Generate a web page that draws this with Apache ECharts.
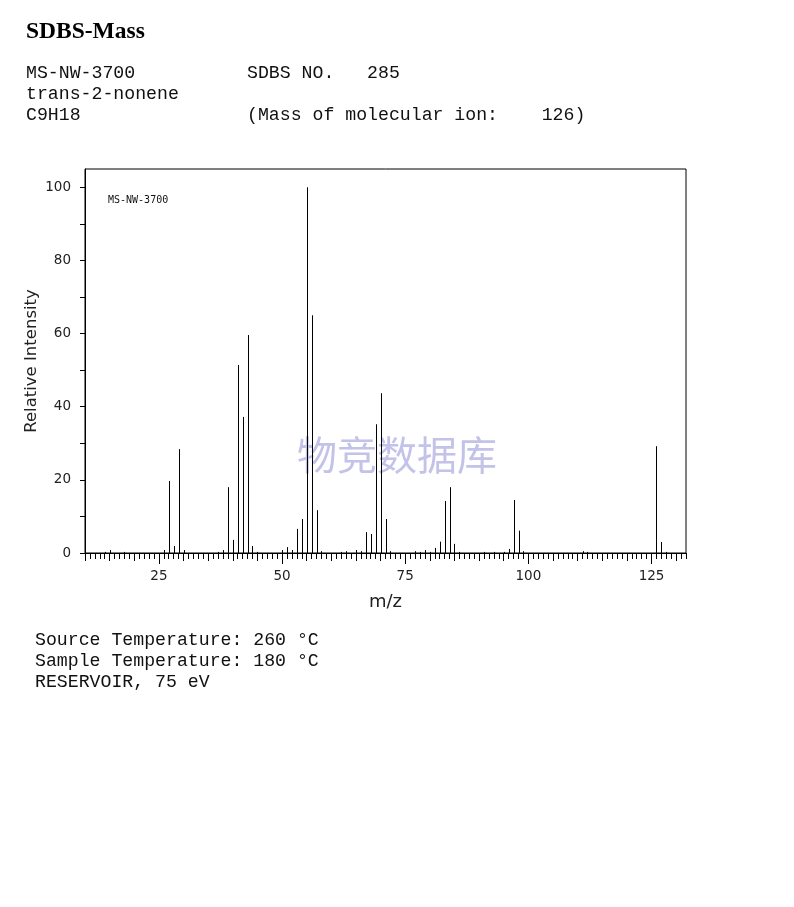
<!DOCTYPE html>
<html>
<head>
<meta charset="utf-8">
<script src="https://cdn.jsdelivr.net/npm/echarts@6/dist/echarts.min.js"></script>
<style>
html,body{margin:0;padding:0;background:#fff;}
#chart{width:794px;height:907px;}
</style>
</head>
<body>
<div id="chart"></div>
<script>
// m/z values and relative intensities
const mz = [14,15,18,26,27,28,29,30,37,38,39,40,41,42,43,44,45,50,51,52,53,54,55,56,57,58,62,63,65,66,67,68,69,70,71,72,77,78,79,80,81,82,83,84,85,86,91,93,95,96,97,98,99,111,112,126,127,128];
const intensity = [0.3,0.8,0.3,0.8,19.7,1.9,28.4,0.8,0.3,0.8,18.0,3.6,51.4,37.2,59.6,1.9,0.3,0.8,1.6,0.8,6.6,9.3,100,65.0,11.7,0.5,0.3,0.5,0.8,0.5,5.7,5.2,35.2,43.7,9.3,0.5,0.5,0.3,0.8,0.3,1.4,3.1,14.2,18.0,2.5,0.3,0.3,0.3,0.3,1.1,14.5,6.1,0.5,0.5,0.3,29.2,3.0,0.3];
const xTickLabels = [25,50,75,100,125];
const xMidTicks = [10,15,20,25,30,35,40,45,50,55,60,65,70,75,80,85,90,95,100,105,110,115,120,125,130];
const yTickLabels = [0,20,40,60,80,100];
const yTicks = [0,10,20,30,40,50,60,70,80,90,100];

const chart = echarts.init(document.getElementById('chart'), null, {renderer:'canvas'});
const mono = "'Liberation Mono', 'Courier New', monospace";

const data = mz.map((m,i)=>[m, intensity[i]]);

function txt(text, x, y, font, fill){
  return {type:'text', x:x, y:y, z:10, style:{text:text, font:font, fill:fill||'#111', textVerticalAlign:'middle', textAlign:'left'}};
}

const option = {
  backgroundColor:'#fff',
  animation:false,
  grid:{left:85, right:108, top:169, bottom:354, show:true, borderColor:'#000', borderWidth:1, backgroundColor:'transparent'},
  xAxis:[
    {type:'value', min:10, max:132, interval:1, gridIndex:0,
     axisLine:{show:true, onZero:false, lineStyle:{color:'#000', width:1}},
     axisTick:{show:true, inside:false, length:6, lineStyle:{color:'#000'}},
     axisLabel:{show:true, margin:16, color:'#222', fontFamily:'DejaVu Sans', fontSize:13.5,
       formatter:function(v){return xTickLabels.indexOf(v)>=0 ? String(v) : '';}},
     splitLine:{show:false},
     name:'m/z', nameLocation:'middle', nameGap:40, nameMoveOverlap:false,
     nameTextStyle:{color:'#222', fontFamily:'DejaVu Sans', fontSize:18}},
    {type:'value', min:10, max:132, interval:5, gridIndex:0, position:'bottom',
     axisLine:{show:false, onZero:false},
     axisTick:{show:true, inside:false, length:8, customValues:xMidTicks, lineStyle:{color:'#000'}},
     axisLabel:{show:false}, splitLine:{show:false}},
    {type:'value', min:10, max:132, gridIndex:0, position:'bottom',
     axisLine:{show:false, onZero:false},
     axisTick:{show:true, inside:false, length:11, customValues:xTickLabels, lineStyle:{color:'#000'}},
     axisLabel:{show:false}, splitLine:{show:false}}
  ],
  yAxis:{type:'value', min:0, max:105, interval:10,
    axisLine:{show:true, lineStyle:{color:'#000'}},
    axisTick:{show:true, inside:false, length:5, customValues:yTicks, lineStyle:{color:'#000'}},
    axisLabel:{show:true, margin:14, color:'#222', fontFamily:'DejaVu Sans', fontSize:13.5,
      formatter:function(v){return yTickLabels.indexOf(v)>=0 ? String(v) : '';}},
    splitLine:{show:false},
    name:'Relative Intensity', nameLocation:'middle', nameGap:45, nameRotate:90, nameMoveOverlap:false,
    nameTextStyle:{color:'#222', fontFamily:'DejaVu Sans', fontSize:16.5}},
  series:[{
    type:'custom', xAxisIndex:0, yAxisIndex:0, z:5,
    data:data,
    renderItem:function(params, api){
      const top = api.coord([api.value(0), api.value(1)]);
      const base = api.coord([api.value(0), 0]);
      const x = Math.round(top[0]) + 0.5;
      return {type:'line', shape:{x1:x, y1:base[1], x2:x, y2:top[1]}, style:{stroke:'#000', lineWidth:1}};
    }
  }],
  graphic:[
    {type:'text', x:397, y:455, z:-1, silent:true, style:{text:'物竞数据库', font:"40px 'Noto Sans CJK SC'", fill:'#c3c3e9', textAlign:'center', textVerticalAlign:'middle'}},
    txt('SDBS-Mass', 26, 32, "bold 23.5px 'Liberation Serif', serif", '#000'),
    txt('MS-NW-3700', 26, 73, '18.2px '+mono),
    txt('SDBS NO.   285', 247, 73, '18.2px '+mono),
    txt('trans-2-nonene', 26, 94, '18.2px '+mono),
    txt('C9H18', 26, 115, '18.2px '+mono),
    txt('(Mass of molecular ion:    126)', 247, 115, '18.2px '+mono),
    txt('MS-NW-3700', 108, 200, "10px 'DejaVu Sans Mono', monospace"),
    txt('Source Temperature: 260 °C', 35, 640, '18.2px '+mono),
    txt('Sample Temperature: 180 °C', 35, 661, '18.2px '+mono),
    txt('RESERVOIR, 75 eV', 35, 682, '18.2px '+mono)
  ]
};
chart.setOption(option);
</script>
</body>
</html>
